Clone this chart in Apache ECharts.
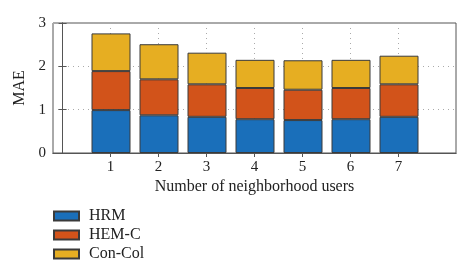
<!DOCTYPE html>
<html><head><meta charset="utf-8">
<script src="https://cdn.jsdelivr.net/npm/echarts@6/dist/echarts.min.js"></script>
<style>html,body{margin:0;padding:0;background:#fff}#c{width:474px;height:275px}</style>
</head><body><div id="c"></div>
<script>
var categories = ['1', '2', '3', '4', '5', '6', '7'];
var tickValues = [1, 2, 3, 4, 5, 6, 7];
var hrm = [0.99, 0.87, 0.835, 0.78, 0.76, 0.78, 0.835];
var hemc = [0.90, 0.83, 0.75, 0.72, 0.70, 0.72, 0.75];
var concol = [0.87, 0.81, 0.73, 0.65, 0.68, 0.65, 0.66];

var font = '"Liberation Serif", "DejaVu Serif", serif';
function ser(name, vals, color){
  return {name:name, type:'bar', stack:'s', barWidth:39, xAxisIndex:2, yAxisIndex:2, data:vals,
    itemStyle:{color:color, borderColor:'#3a3a3a', borderWidth:1}};
}
var tickStyle = {show:true, inside:true, length:4, lineStyle:{color:'#555'}};
var chart = echarts.init(document.getElementById('c'));
chart.setOption({
  animation:false,
  grid:[{left:53, right:18, top:23, bottom:122, show:true, borderColor:'#555', borderWidth:1},
        {left:87, width:336, top:23, bottom:122}],
  xAxis:[{gridIndex:0, type:'value', min:-0.2, max:8.2, position:'bottom',
    name:'Number of neighborhood users', nameLocation:'middle', nameGap:26,
    nameTextStyle:{fontFamily:font, fontSize:16, color:'#222'},
    axisLine:{show:true, lineStyle:{color:'#555'}},
    axisTick:Object.assign({customValues:tickValues}, tickStyle),
    axisLabel:{customValues:tickValues, fontFamily:font, fontSize:15, color:'#222', margin:7},
    splitLine:{show:true, lineStyle:{color:'#aaa', type:[1,4]}}},
   {gridIndex:0, type:'value', min:-0.2, max:8.2, position:'top',
    axisLine:{show:true, lineStyle:{color:'#555'}},
    axisTick:Object.assign({customValues:tickValues}, tickStyle),
    axisLabel:{show:false}, splitLine:{show:false}},
   {gridIndex:1, type:'category', data:categories,
    axisLine:{show:false}, axisTick:{show:false}, axisLabel:{show:false}, splitLine:{show:false}}],
  yAxis:[{gridIndex:0, type:'value', min:0, max:3, interval:1,
    name:'MAE', nameLocation:'middle', nameGap:23,
    nameTextStyle:{fontFamily:font, fontSize:16, color:'#222'},
    axisLine:{show:true, lineStyle:{color:'#555'}},
    axisTick:tickStyle,
    axisLabel:{fontFamily:font, fontSize:15, color:'#222', margin:7},
    splitLine:{show:true, lineStyle:{color:'#aaa', type:[1,4]}}},
   {gridIndex:0, type:'value', min:0, max:3, interval:1, position:'right',
    axisLine:{show:true, lineStyle:{color:'#555'}},
    axisTick:tickStyle, axisLabel:{show:false}, splitLine:{show:false}},
   {gridIndex:1, type:'value', min:0, max:3, interval:1,
    axisLine:{show:false}, axisTick:{show:false}, axisLabel:{show:false}, splitLine:{show:false}}],
  legend:{orient:'vertical', left:48, top:203, itemWidth:25, itemHeight:9, itemGap:3,
    icon:'rect', textStyle:{fontFamily:font, fontSize:16, color:'#222', padding:[0,0,0,5]},
    data:['HRM','HEM-C','Con-Col']},
  series:[ser('HRM', hrm, '#1a6fba'), ser('HEM-C', hemc, '#d2531a'), ser('Con-Col', concol, '#e6ae22')]
});
</script></body></html>
